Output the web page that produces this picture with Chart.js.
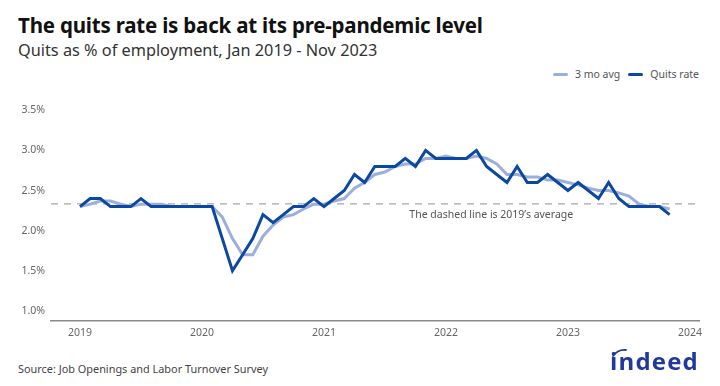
<!DOCTYPE html>
<html>
<head>
<meta charset="utf-8">
<script src="https://cdn.jsdelivr.net/npm/chart.js@4.4.0/dist/chart.umd.min.js"></script>
<style>
  html, body { margin:0; padding:0; background:#fff; }
  body { width:720px; height:386px; position:relative; overflow:hidden; font-family:"Noto Sans","Open Sans",sans-serif; }
  #title { position:absolute; left:18px; top:13px; font-size:20.5px; font-weight:700; color:#111; white-space:nowrap; letter-spacing:-0.2px; line-height:1.2; }
  #subtitle { position:absolute; left:18px; top:41px; font-size:16.3px; color:#333; white-space:nowrap; line-height:1.2; }
  #legend { position:absolute; right:21px; top:67px; display:flex; align-items:center; font-size:10.5px; color:#555; white-space:nowrap; }
  .sw { display:inline-block; width:15px; height:3px; border-radius:2px; margin-right:7px; }
  .item { display:flex; align-items:center; margin-left:8px; }
  #source { position:absolute; left:18px; top:361px; font-size:10.9px; color:#444; white-space:nowrap; }
  #logo { position:absolute; right:21px; top:349px; font-size:24px; font-weight:700; color:#22399c; letter-spacing:1.2px; line-height:1; font-family:"Open Sans","Noto Sans",sans-serif; }
  #arc { position:absolute; left:609px; top:347px; }
  #chartWrap { position:absolute; left:0; top:90px; width:720px; height:260px; }
</style>
</head>
<body>
<div id="title">The quits rate is back at its pre-pandemic level</div>
<div id="subtitle">Quits as % of employment, Jan 2019 - Nov 2023</div>
<div id="legend">
  <div class="item"><span class="sw" style="background:#9cafdc"></span>3 mo avg</div>
  <div class="item"><span class="sw" style="background:#0b48a0"></span>Quits rate</div>
</div>
<div id="chartWrap"><canvas id="c" width="720" height="260"></canvas></div>
<div id="source">Source: Job Openings and Labor Turnover Survey</div>
<div id="logo">indeed</div>
<svg id="arc" width="20" height="12" viewBox="0 0 20 12"><path d="M4 9 Q9 2 17 3" stroke="#22399c" stroke-width="1.8" fill="none" stroke-linecap="round"/></svg>
<script>
// Monthly, Jan 2019 (index 0) .. Nov 2023 (index 58)
const quitsRate = [
  2.3,2.4,2.4,2.3,2.3,2.3,2.4,2.3,2.3,2.3,2.3,2.3,
  2.3,2.3,1.9,1.5,1.7,1.9,2.2,2.1,2.2,2.3,2.3,2.4,
  2.3,2.4,2.5,2.7,2.6,2.8,2.8,2.8,2.9,2.8,3.0,2.9,
  2.9,2.9,2.9,3.0,2.8,2.7,2.6,2.8,2.6,2.6,2.7,2.6,
  2.5,2.6,2.5,2.4,2.6,2.4,2.3,2.3,2.3,2.3,2.2
];
const avg3mo = [
  2.30,2.33,2.37,2.37,2.33,2.30,2.33,2.33,2.33,2.30,2.30,2.30,
  2.30,2.30,2.17,1.90,1.70,1.70,1.93,2.07,2.17,2.20,2.27,2.33,
  2.33,2.37,2.40,2.53,2.60,2.70,2.73,2.80,2.83,2.83,2.90,2.90,
  2.93,2.90,2.90,2.93,2.90,2.83,2.70,2.70,2.67,2.67,2.63,2.63,
  2.60,2.57,2.53,2.50,2.50,2.47,2.43,2.33,2.30,2.30,2.27
];
const yearTicks = [0,12,24,36,48,60];
const yearLabels = ["2019","2020","2021","2022","2023","2024"];
const yTicks = [1.0,1.5,2.0,2.5,3.0,3.5];
const avg2019 = 2.333;
const noteText = "The dashed line is 2019\u2019s average";

const monthIdx = quitsRate.map((_, i) => i);
const toXY = arr => arr.map((v, i) => ({x: monthIdx[i], y: v}));

const refLine = {
  id: 'refLine',
  beforeDatasetsDraw(chart) {
    const {ctx, chartArea, scales} = chart;
    const y = scales.y.getPixelForValue(avg2019);
    ctx.save();
    ctx.strokeStyle = '#a8a8a8';
    ctx.lineWidth = 1.4;
    ctx.setLineDash([7, 6]);
    ctx.beginPath();
    ctx.moveTo(chartArea.left, y);
    ctx.lineTo(chartArea.right, y);
    ctx.stroke();
    ctx.setLineDash([]);
    ctx.fillStyle = '#555';
    ctx.font = '10.5px "Noto Sans", "Open Sans", sans-serif';
    ctx.textAlign = 'left';
    ctx.textBaseline = 'middle';
    ctx.fillText(noteText, scales.x.getPixelForValue(32.4), y + 11);
    ctx.restore();
  }
};

new Chart(document.getElementById('c'), {
  type: 'line',
  data: {
    datasets: [
      { label: 'Quits rate', data: toXY(quitsRate), borderColor: '#0b48a0', borderWidth: 3, pointRadius: 0, tension: 0, borderJoinStyle: 'miter', order: 1 },
      { label: '3 mo avg', data: toXY(avg3mo), borderColor: '#9cafdc', borderWidth: 3, pointRadius: 0, tension: 0, order: 2 }
    ]
  },
  options: {
    responsive: false,
    animation: false,
    devicePixelRatio: 1,
    layout: { padding: { top: 9, right: 21, bottom: 0, left: 0 } },
    plugins: { legend: { display: false }, tooltip: { enabled: false } },
    scales: {
      x: {
        type: 'linear',
        min: -2.85, max: 60.89,
        afterFit(s) { s.height = 29.3; },
        afterBuildTicks(s) { s.ticks = yearTicks.map(v => ({value: v})); },
        grid: { display: false, drawTicks: false },
        border: { display: true, color: '#888', width: 1.5 },
        ticks: {
          padding: 6, color: '#666', font: { size: 10.5, family: '"Noto Sans", "Open Sans", sans-serif' },
          maxRotation: 0, autoSkip: false,
          callback: (v) => { const k = yearTicks.indexOf(v); return k >= 0 ? yearLabels[k] : ''; }
        }
      },
      y: {
        min: 0.877, max: 3.6,
        afterFit(s) { s.width = 51; },
        afterBuildTicks(s) { s.ticks = yTicks.map(v => ({value: v})); },
        grid: { display: false, drawTicks: false },
        border: { display: false },
        ticks: {
          padding: 6, color: '#666', font: { size: 10.5, family: '"Noto Sans", "Open Sans", sans-serif' },
          callback: (v) => v.toFixed(1) + '%'
        }
      }
    }
  },
  plugins: [refLine]
});
</script>
</body>
</html>
